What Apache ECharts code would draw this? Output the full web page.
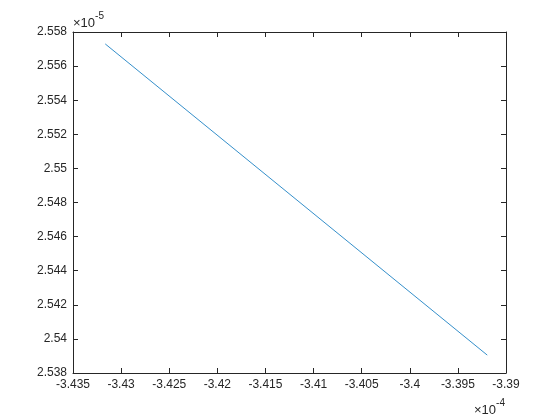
<!DOCTYPE html>
<html>
<head>
<meta charset="utf-8">
<script src="https://cdn.jsdelivr.net/npm/echarts@6/dist/echarts.min.js"></script>
<style>
  html, body { margin: 0; padding: 0; background: #fff; }
  #chart { width: 560px; height: 420px; }
</style>
</head>
<body>
<div id="chart"></div>
<script>
// values in axis units: x is x 1e-4, y is x 1e-5
const xValues = [-3.43165, -3.39195];
const yValues = [2.55730, 2.53905];
const xExponent = "-4";
const yExponent = "-5";

const axisColor = "#262626";
const fontFamily = "Arial, 'Liberation Sans', Helvetica, sans-serif";

const fmt = (v) => parseFloat(v.toFixed(4)).toString();

const chart = echarts.init(document.getElementById("chart"));

function boxAxis(pos, min, max, interval, show) {
  return {
    type: "value",
    position: pos,
    min: min,
    max: max,
    interval: interval,
    axisLine: { show: true, onZero: false, lineStyle: { color: axisColor, width: 1 } },
    axisTick: { show: true, inside: true, length: 5, lineStyle: { color: axisColor } },
    axisLabel: {
      show: show,
      color: axisColor,
      fontFamily: fontFamily,
      fontSize: 12,
      margin: 6,
      formatter: fmt,
    },
    splitLine: { show: false },
  };
}

const expRich = {
  a: { fontSize: 13, fontFamily: fontFamily, fill: axisColor, padding: [6, 0, 0, 0] },
  b: { fontSize: 10, fontFamily: fontFamily, fill: axisColor, verticalAlign: "top" },
};

chart.setOption({
  animation: false,
  grid: { left: 73, right: 54, top: 32, bottom: 47 },
  xAxis: [
    boxAxis("bottom", -3.435, -3.39, 0.005, true),
    boxAxis("top", -3.435, -3.39, 0.005, false),
  ],
  yAxis: [
    boxAxis("left", 2.538, 2.558, 0.002, true),
    boxAxis("right", 2.538, 2.558, 0.002, false),
  ],
  series: [
    {
      type: "line",
      data: xValues.map((x, i) => [x, yValues[i]]),
      showSymbol: false,
      lineStyle: { color: "#0072BD", width: 0.8 },
    },
  ],
  graphic: [
    {
      type: "text",
      left: 73,
      top: 11,
      style: { text: "{a|\u00d710}{b|" + yExponent + "}", rich: expRich },
    },
    {
      type: "text",
      left: 474,
      top: 398,
      style: { text: "{a|\u00d710}{b|" + xExponent + "}", rich: expRich },
    },
  ],
});
</script>
</body>
</html>
